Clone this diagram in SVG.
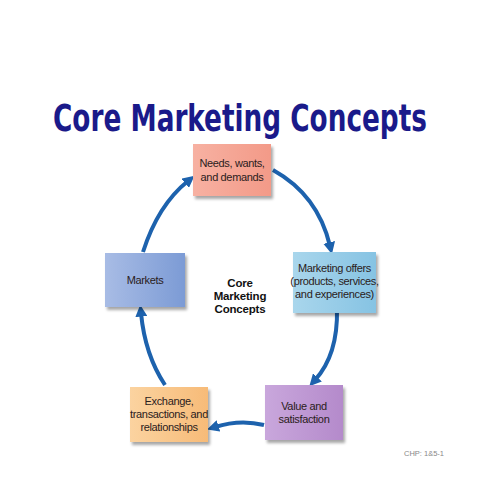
<svg xmlns="http://www.w3.org/2000/svg" width="480" height="480" viewBox="0 0 480 480">
<style>
.box{stroke:none}
.lbl{font-family:"Liberation Sans",Arial,sans-serif;font-size:11px;letter-spacing:-0.35px;fill:#2a2020;text-anchor:middle}
.ctr{font-family:"Liberation Sans",Arial,sans-serif;font-size:11.5px;letter-spacing:-0.2px;font-weight:bold;fill:#111;text-anchor:middle}
.arr{fill:none;stroke:#1d62ad;stroke-width:4;marker-end:url(#ah)}
</style>
<defs>
<marker id="ah" viewBox="0 0 10 10" refX="3" refY="5" markerWidth="3" markerHeight="3" orient="auto" markerUnits="strokeWidth">
<path d="M0,0 L10,5 L0,10 z" fill="#1d62ad"/>
</marker>
<filter id="sh" x="-10%" y="-10%" width="130%" height="130%">
<feGaussianBlur in="SourceAlpha" stdDeviation="1.5"/>
<feOffset dx="2" dy="3" result="b"/>
<feComponentTransfer><feFuncA type="linear" slope="0.35"/></feComponentTransfer>
<feMerge><feMergeNode/><feMergeNode in="SourceGraphic"/></feMerge>
</filter>
<linearGradient id="gN" x1="0" y1="0" x2="1" y2="0"><stop offset="0" stop-color="#f7b1a2"/><stop offset="1" stop-color="#f39a88"/></linearGradient>
<linearGradient id="gO" x1="0" y1="0" x2="1" y2="0"><stop offset="0" stop-color="#a9d6ec"/><stop offset="1" stop-color="#86c3e3"/></linearGradient>
<linearGradient id="gM" x1="0" y1="0" x2="1" y2="0"><stop offset="0" stop-color="#a8bce5"/><stop offset="1" stop-color="#7c9bd5"/></linearGradient>
<linearGradient id="gE" x1="0" y1="0" x2="1" y2="0"><stop offset="0" stop-color="#fbd3a0"/><stop offset="1" stop-color="#f7bb78"/></linearGradient>
<linearGradient id="gV" x1="0" y1="0" x2="1" y2="0"><stop offset="0" stop-color="#c9a7dc"/><stop offset="1" stop-color="#b48acb"/></linearGradient>
</defs>
<rect width="480" height="480" fill="#fff"/>
<text transform="translate(240,131) scale(0.77,1)" x="0" y="0" font-family="'DejaVu Sans Condensed','DejaVu Sans',sans-serif" font-weight="bold" font-size="38" fill="#1a1a8a" text-anchor="middle">Core Marketing Concepts</text>

<g id="connectors">
<path class="arr" d="M143,252 Q158,205 188,181"/>
<path class="arr" d="M273,170 Q318,195 330,246"/>
<path class="arr" d="M337,309 Q338,355 315,380"/>
<path class="arr" d="M264,425 Q240,419 215,427"/>
<path class="arr" d="M165,385 Q145,355 141,313"/>
</g>

<g id="needs">
<rect class="box" x="193" y="144" width="78" height="52" fill="url(#gN)" filter="url(#sh)"/>
<text class="lbl" x="232" y="167">Needs, wants,</text>
<text class="lbl" x="232" y="181">and demands</text>
</g>
<g id="offers">
<rect class="box" x="293" y="252" width="83" height="61" fill="url(#gO)" filter="url(#sh)"/>
<text class="lbl" x="334.5" y="272">Marketing offers</text>
<text class="lbl" x="334.5" y="285">(products, services,</text>
<text class="lbl" x="334.5" y="298">and experiences)</text>
</g>
<g id="markets">
<rect class="box" x="105" y="253" width="80" height="54" fill="url(#gM)" filter="url(#sh)"/>
<text class="lbl" x="145" y="284">Markets</text>
</g>
<g id="exchange">
<rect class="box" x="130" y="387" width="78" height="55" fill="url(#gE)" filter="url(#sh)"/>
<text class="lbl" x="169" y="405">Exchange,</text>
<text class="lbl" x="169" y="418">transactions, and</text>
<text class="lbl" x="169" y="431">relationships</text>
</g>
<g id="value">
<rect class="box" x="265" y="385" width="78" height="55" fill="url(#gV)" filter="url(#sh)"/>
<text class="lbl" x="304" y="410">Value and</text>
<text class="lbl" x="304" y="423">satisfaction</text>
</g>
<g id="center">
<text class="ctr" x="240" y="287">Core</text>
<text class="ctr" x="240" y="300">Marketing</text>
<text class="ctr" x="240" y="313">Concepts</text>
</g>
<text x="424" y="456" font-family="'Liberation Sans',sans-serif" font-size="7.5" fill="#888" text-anchor="middle">CHP: 1&amp;5-1</text>
</svg>
